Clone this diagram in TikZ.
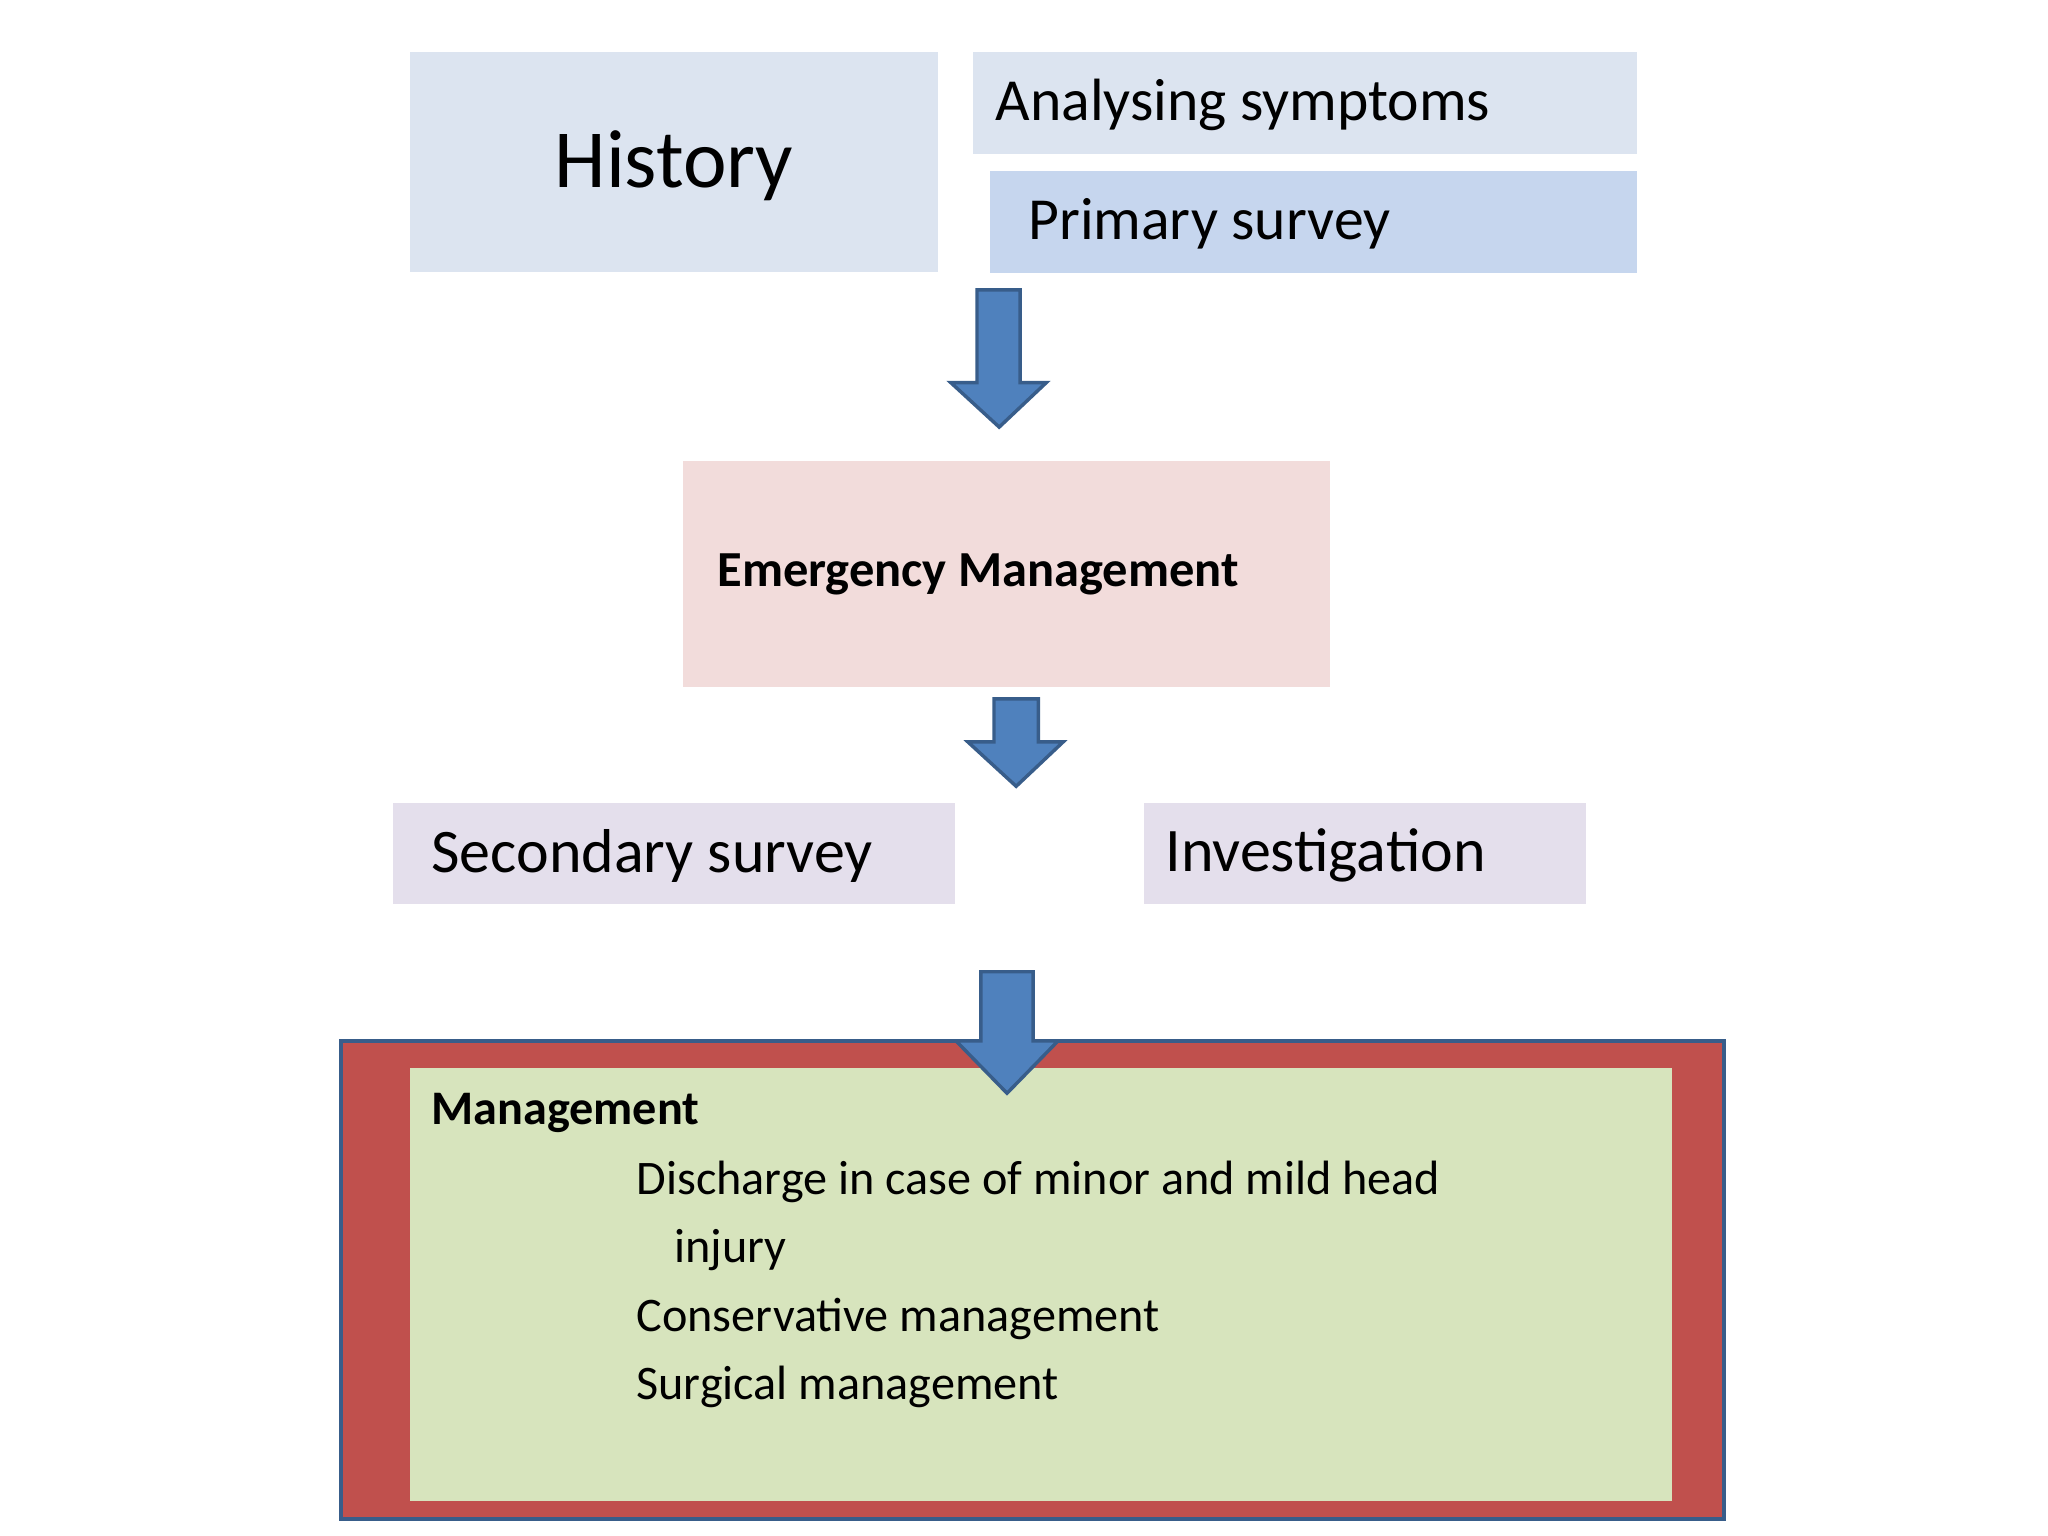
\documentclass[tikz,border=0pt]{standalone}
\usepackage{fontspec}
\setmainfont{Carlito}
\begin{document}
\begin{tikzpicture}[x=0.02cm,y=-0.02cm,
  box/.style={draw=none},
  blk/.style={fill=arrowfill,draw=arrowdraw,line width=1.5pt,line join=miter},
  txt/.style={anchor=west,inner sep=0pt}]
\definecolor{lblue}{HTML}{DCE4F0}\definecolor{mblue}{HTML}{C6D6EE}
\definecolor{pink}{HTML}{F2DCDB}\definecolor{lav}{HTML}{E4DFEC}
\definecolor{arrowfill}{HTML}{4F81BD}\definecolor{arrowdraw}{HTML}{385D8A}
\definecolor{redb}{HTML}{C0504D}\definecolor{green}{HTML}{D7E4BD}
\useasboundingbox (0,0) rectangle (1568,1176);
\fill[lblue] (314,40) rectangle (718,208);
\node[inner sep=0pt,font=\fontsize{36}{40}\selectfont] (hist) at (516,127) {History};
\fill[lblue] (745,40) rectangle (1253,118);
\node[txt,font=\fontsize{26}{30}\selectfont] (ana) at (762,80) {Analysing symptoms};
\fill[mblue] (758,131) rectangle (1253,209);
\node[txt,font=\fontsize{26}{30}\selectfont] (prim) at (787,171) {Primary survey};
\draw[blk] (748,222) -- (781,222) -- (781,293) -- (801,293) -- (765,327) -- (728,293) -- (748,293) -- cycle;
\fill[pink] (523,353) rectangle (1018,526);
\node[txt,font=\fontsize{22}{26}\selectfont\bfseries] (em) at (549,440) {Emergency Management};
\draw[blk] (761,535) -- (795,535) -- (795,568) -- (814,568) -- (778,602) -- (741,568) -- (761,568) -- cycle;
\fill[lav] (301,615) rectangle (731,692);
\node[txt,font=\fontsize{27}{30}\selectfont] (sec) at (330,655) {Secondary survey};
\fill[lav] (876,615) rectangle (1214,692);
\node[txt,font=\fontsize{27}{30}\selectfont] (inv) at (892,655) {Investigation};
\draw[fill=redb,draw=arrowdraw,line width=2pt] (261,797) rectangle (1320,1163);
\fill[green] (314,818) rectangle (1280,1149);
\draw[blk] (751,744) -- (791,744) -- (791,797) -- (810,797) -- (771,837) -- (732,797) -- (751,797) -- cycle;
\begin{scope}[font=\fontsize{21}{24}\selectfont]
\node[txt,font=\fontsize{21}{24}\selectfont\bfseries] (man) at (330,852) {Management};
\node[txt] (d1) at (487,905) {Discharge in case of minor and mild head};
\node[txt] (d2) at (516,957) {injury};
\node[txt] (d3) at (487,1010) {Conservative management};
\node[txt] (d4) at (487,1062) {Surgical management};
\end{scope}
\end{tikzpicture}
\end{document}
